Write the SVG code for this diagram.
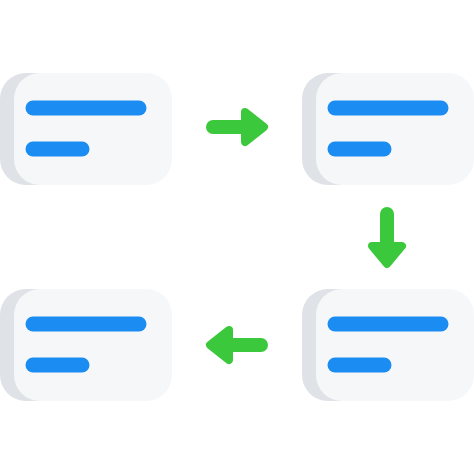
<svg xmlns="http://www.w3.org/2000/svg" width="474" height="474" viewBox="0 0 474 474">
<style>
.back{fill:#dfe2e6}
.front{fill:#f5f7f9}
.bar{stroke:#1a8cf2;stroke-width:15;stroke-linecap:round;fill:none}
.shaft{stroke:#3cc83c;stroke-width:14;stroke-linecap:round;fill:none}
.head{fill:#3cc83c;stroke:#3cc83c;stroke-width:8;stroke-linejoin:round}
</style>
<defs>
<g id="card">
<rect class="back" x="0" y="0" width="150" height="112" rx="26"/>
<rect class="front" x="14" y="0" width="158" height="112" rx="26"/>
<line class="bar" x1="33" y1="35" x2="139" y2="35"/>
<line class="bar" x1="33" y1="76" x2="82" y2="76"/>
</g>
</defs>
<g id="card-tl"><use href="#card" x="0" y="73"/></g>
<g id="card-tr"><use href="#card" x="302" y="73"/></g>
<g id="card-br"><use href="#card" x="302" y="289"/></g>
<g id="card-bl"><use href="#card" x="0" y="289"/></g>
<g id="connectors">
<line class="shaft" x1="213" y1="127" x2="252" y2="127"/>
<path class="head" d="M245,112 L264,127 L245,142 Z"/>
<line class="shaft" x1="387" y1="214" x2="387" y2="252"/>
<path class="head" d="M372,246 L387,264 L402,246 Z"/>
<line class="shaft" x1="261" y1="345" x2="222" y2="345"/>
<path class="head" d="M229,330 L210,345 L229,360 Z"/>
</g>
</svg>
